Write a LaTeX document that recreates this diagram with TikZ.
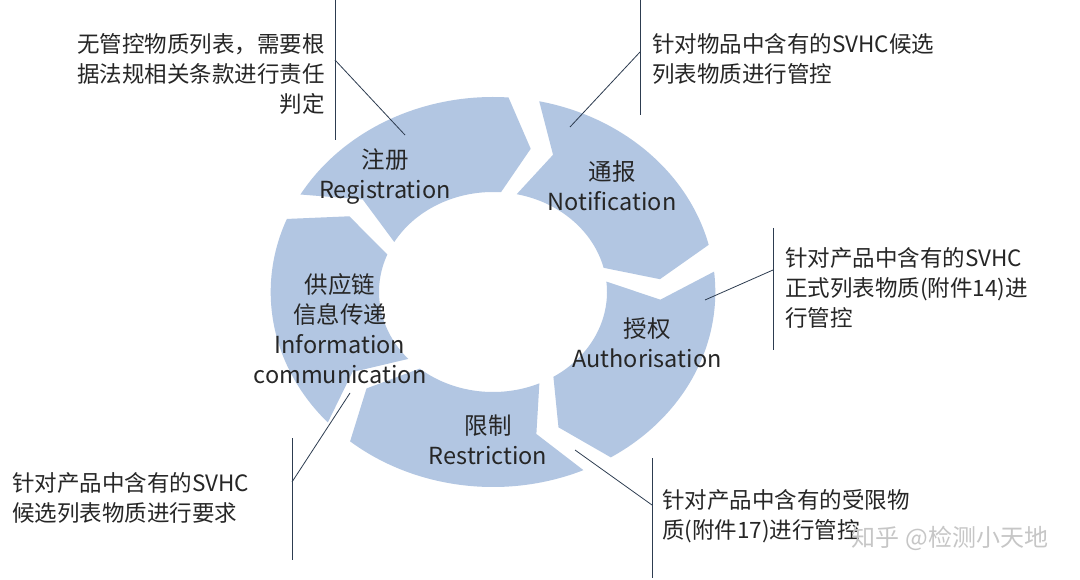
\documentclass[tikz,border=0pt]{standalone}
\usepackage{fontspec}
\setmainfont{Noto Sans CJK SC}
\begin{document}
\begin{tikzpicture}[x=1pt,y=-1pt,
  seg/.style={fill=ringblue,draw=none},
  lbl/.style={font=\fontsize{23.5}{30}\selectfont,text=black!85,align=center,inner sep=0},
  note/.style={font=\fontsize{22.5}{30}\selectfont,text=black!85,inner sep=0},
  lead/.style={draw=leadc,line width=0.8pt}]
\definecolor{ringblue}{RGB}{178,198,226}
\definecolor{leadc}{RGB}{45,60,80}
\useasboundingbox (0,0) rectangle (1080,580);
\fill[white] (0,0) rectangle (1080,580);
\begin{scope}[shift={(493,292)},yscale=-1,xscale=1.14]
 \def\R{195}\def\r{100}\def\Rm{147}
 \foreach \gs/\ge in {154/82,82/10,10/-62,-62/-134,-134/-206}{
  \pgfmathsetmacro\s{\gs-4}\pgfmathsetmacro\e{\ge+4}
  \pgfmathsetmacro\t{\ge-5}\pgfmathsetmacro\n{\gs-13}
  \fill[seg] (\s:\R) arc[start angle=\s,end angle=\e,radius=\R] -- (\t:\Rm) -- (\e:\r)
    arc[start angle=\e,end angle=\s,radius=\r] -- (\n:\Rm) -- cycle;
 }
\end{scope}
\node[lbl] (reg) at (385,177) {注册\\Registration};
\node[lbl] (not) at (612,186) {通报\\Notification};
\node[lbl] (aut) at (647,343) {授权\\Authorisation};
\node[lbl] (res) at (488,440) {限制\\Restriction};
\node[lbl] (inf) at (340,329) {供应链\\信息传递\\Information\\communication};
% notes
\node[note,align=right,anchor=north east] (n1) at (325,33) {无管控物质列表，需要根\\据法规相关条款进行责任\\判定};
\node[note,align=left,anchor=north west] (n2) at (652,33) {针对物品中含有的SVHC候选\\列表物质进行管控};
\node[note,align=left,anchor=north west] (n3) at (785,247) {针对产品中含有的SVHC\\正式列表物质(附件14)进\\行管控};
\node[note,align=left,anchor=north west] (n4) at (662,489) {针对产品中含有的受限物\\质(附件17)进行管控};
\node[note,align=left,anchor=north west] (n5) at (12,472) {针对产品中含有的SVHC\\候选列表物质进行要求};
% bracket lines
\coordinate (b1t) at (335,0);\coordinate (b1b) at (335,140);\coordinate (b1m) at (335,60);
\coordinate (b2t) at (640,0);\coordinate (b2b) at (640,115);\coordinate (b2m) at (640,52);
\coordinate (b3t) at (773,228);\coordinate (b3b) at (773,350);\coordinate (b3m) at (773,270);
\coordinate (b4t) at (652,458);\coordinate (b4b) at (652,578);\coordinate (b4m) at (652,505);
\coordinate (b5t) at (292,438);\coordinate (b5b) at (292,560);\coordinate (b5m) at (292,482);
\foreach \i in {1,...,5}{\draw[lead] (b\i t) -- (b\i b);}
\coordinate (p1) at (405,135);\coordinate (p2) at (570,127);\coordinate (p3) at (705,300);
\coordinate (p4) at (575,450);\coordinate (p5) at (350,393);
\foreach \i in {1,...,5}{\draw[lead] (p\i) -- (b\i m);}
\node[font=\fontsize{24}{26}\selectfont,text=gray!45,inner sep=0] (wm) at (950,538) {知乎 @检测小天地};
\end{tikzpicture}
\end{document}
